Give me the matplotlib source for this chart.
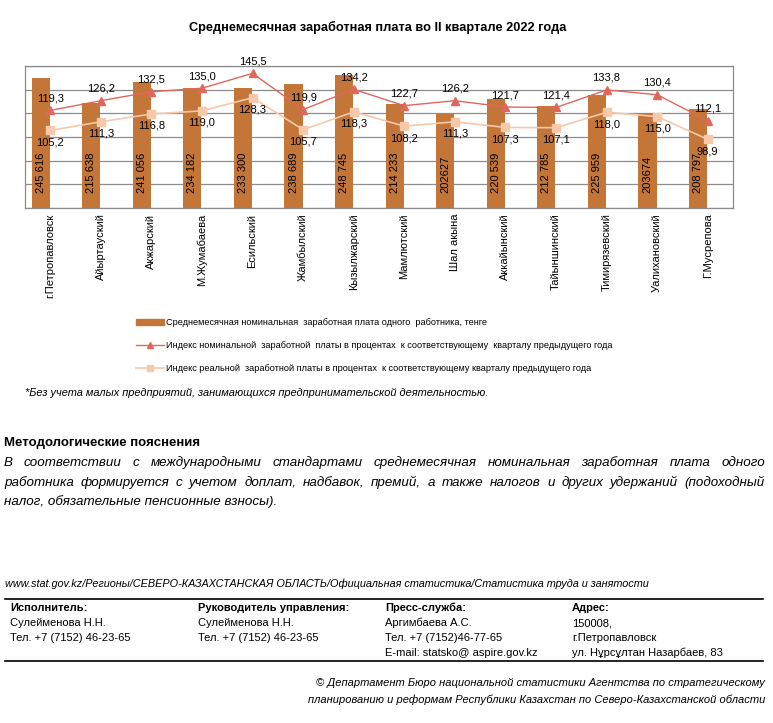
import numpy as np
import matplotlib
matplotlib.use("Agg")
import matplotlib.pyplot as plt
from matplotlib.lines import Line2D
from matplotlib.patches import Patch

regions = ["г.Петропавловск", "Айыртауский", "Акжарский", "М.Жумабаева", "Есильский",
           "Жамбылский", "Кызылжарский", "Мамлютский", "Шал акына", "Аккайынский",
           "Тайыншинский", "Тимирязевский", "Уалихановский", "Г.Мусрепова"]
wage = [245616, 215638, 241056, 234182, 233300, 238689, 248745,
        214233, 202627, 220539, 212785, 225959, 203674, 208797]
wage_labels = ["245 616", "215 638", "241 056", "234 182", "233 300", "238 689", "248 745",
               "214 233", "202627", "220 539", "212 785", "225 959", "203674", "208 797"]
nominal_idx = [119.3, 126.2, 132.5, 135.0, 145.5, 119.9, 134.2,
               122.7, 126.2, 121.7, 121.4, 133.8, 130.4, 112.1]
real_idx = [105.2, 111.3, 116.8, 119.0, 128.3, 105.7, 118.3,
            108.2, 111.3, 107.3, 107.1, 118.0, 115.0, 98.9]

BAR = "#C47638"
NOM = "#E0685A"
REAL = "#F7C8AA"
GRID = "#8C8C8C"

plt.rcParams['font.family'] = ['Liberation Sans', 'DejaVu Sans']

W, H = 773, 723
fig = plt.figure(figsize=(W / 100, H / 100), dpi=100)

def fx(px):
    return px / W

def fy(py):
    return 1 - py / H

# chart area
ax = fig.add_axes([fx(25), fy(208), fx(733) - fx(25), fy(66) - fy(208)])
x = np.arange(len(regions))
ax.bar(x - 0.19, wage, width=0.36, color=BAR, zorder=2)
ax.set_ylim(90400, 260000)
ax.set_xlim(-0.5, len(regions) - 0.5)
ax.set_yticks(np.linspace(90400, 260000, 7))
ax.yaxis.grid(True, color=GRID, lw=0.9, zorder=0)
ax.tick_params(axis='y', length=0, labelleft=False)
ax.tick_params(axis='x', length=0, pad=4)
ax.set_xticks(x)
ax.set_xticklabels(regions, rotation=90, fontsize=8, va='top')
for s in ax.spines.values():
    s.set_color(GRID)
    s.set_linewidth(0.9)

for xi, lab in zip(x, wage_labels):
    ax.text(xi - 0.19, 0.105, lab, rotation=90, ha='center', va='bottom', fontsize=8,
            transform=ax.get_xaxis_transform(), zorder=4)

ax2 = ax.twinx()
ax2.set_ylim(50.4, 150.7)
ax2.axis('off')
ax2.plot(x, real_idx, color=REAL, lw=1.2, marker='s', ms=6, mfc=REAL, mec=REAL, zorder=3)
ax2.plot(x, nominal_idx, color=NOM, lw=1.0, marker='^', ms=6, mfc=NOM, mec=NOM, zorder=3)
for xi, v in zip(x, nominal_idx):
    ax2.annotate(f"{v:.1f}".replace('.', ','), (xi, v), xytext=(0, 5), textcoords='offset points',
                 ha='center', va='bottom', fontsize=8)
for xi, v in zip(x, real_idx):
    ax2.annotate(f"{v:.1f}".replace('.', ','), (xi, v), xytext=(0, -5), textcoords='offset points',
                 ha='center', va='top', fontsize=8)

# title
fig.text(fx(378), fy(27), "Среднемесячная заработная плата во II квартале 2022 года",
         ha='center', va='center', fontsize=9.2, fontweight='bold')

# legend
handles = [Patch(color=BAR),
           Line2D([], [], color=NOM, lw=1, marker='^', ms=5),
           Line2D([], [], color=REAL, lw=1.2, marker='s', ms=5)]
labels = ["Среднемесячная номинальная  заработная плата одного  работника, тенге",
          "Индекс номинальной  заработной  платы в процентах  к соответствующему  кварталу предыдущего года",
          "Индекс реальной  заработной платы в процентах  к соответствующему кварталу предыдущего года"]
fig.legend(handles, labels, loc='upper left', bbox_to_anchor=(fx(128), fy(310)), frameon=False,
           fontsize=6.6, handlelength=3.0, handletextpad=0.3, labelspacing=1.5)

fig.text(fx(25), fy(393), "*Без учета малых предприятий, занимающихся предпринимательской деятельностью.",
         ha='left', va='center', fontsize=7.9, style='italic')

fig.text(fx(4), fy(443), "Методологические пояснения", ha='left', va='center',
         fontsize=9.5, fontweight='bold')

para = ["В соответствии с международными стандартами среднемесячная номинальная заработная плата одного",
        "работника формируется с учетом доплат, надбавок, премий, а также налогов и других удержаний (подоходный",
        "налог, обязательные пенсионные взносы)."]
para_y = [466, 486, 505]
PFS = 9.6
fig.canvas.draw()
rend = fig.canvas.get_renderer()
for i, (line, py) in enumerate(zip(para, para_y)):
    if i == len(para) - 1:
        fig.text(fx(4), fy(py), line, ha='left', va='baseline', fontsize=PFS, style='italic')
        continue
    words = line.split()
    objs = [fig.text(0, fy(py), w, ha='left', va='baseline', fontsize=PFS, style='italic')
            for w in words]
    widths = [o.get_window_extent(rend).width for o in objs]
    gap = (761 - sum(widths)) / (len(words) - 1)
    cur = 4
    for o, wd in zip(objs, widths):
        o.set_x(fx(cur))
        cur += wd + gap

fig.text(fx(5), fy(584), "www.stat.gov.kz/Регионы/СЕВЕРО-КАЗАХСТАНСКАЯ ОБЛАСТЬ/Официальная статистика/Статистика труда и занятости",
         ha='left', va='center', fontsize=7.85, style='italic')

fig.add_artist(Line2D([fx(5), fx(763)], [fy(599), fy(599)], color='black', lw=1.2))
fig.add_artist(Line2D([fx(5), fx(763)], [fy(661), fy(661)], color='black', lw=1.2))

cols = [
    ["Исполнитель:", "Сулейменова Н.Н.", "Тел. +7 (7152) 46-23-65"],
    ["Руководитель управления:", "Сулейменова Н.Н.", "Тел. +7 (7152) 46-23-65"],
    ["Пресс-служба:", "Аргимбаева А.С.", "Тел. +7 (7152)46-77-65", "E-mail: statsko@ aspire.gov.kz"],
    ["Адрес:", "150008,", "г.Петропавловск", "ул. Нұрсұлтан Назарбаев, 83"],
]
col_x = [10, 198, 385, 572]
for cx, items in zip(col_x, cols):
    for j, t in enumerate(items):
        fig.text(fx(cx), fy(607 + 15 * j), t, ha='left', va='center_baseline', fontsize=8.0,
                 fontweight='bold' if j == 0 else 'normal')

fig.text(fx(765), fy(683), "© Департамент Бюро национальной статистики Агентства по стратегическому",
         ha='right', va='center', fontsize=8.0, style='italic')
fig.text(fx(765), fy(700), "планированию и реформам Республики Казахстан по Северо-Казахстанской области",
         ha='right', va='center', fontsize=8.0, style='italic')

fig.savefig("out.png", dpi=100, facecolor='white')
